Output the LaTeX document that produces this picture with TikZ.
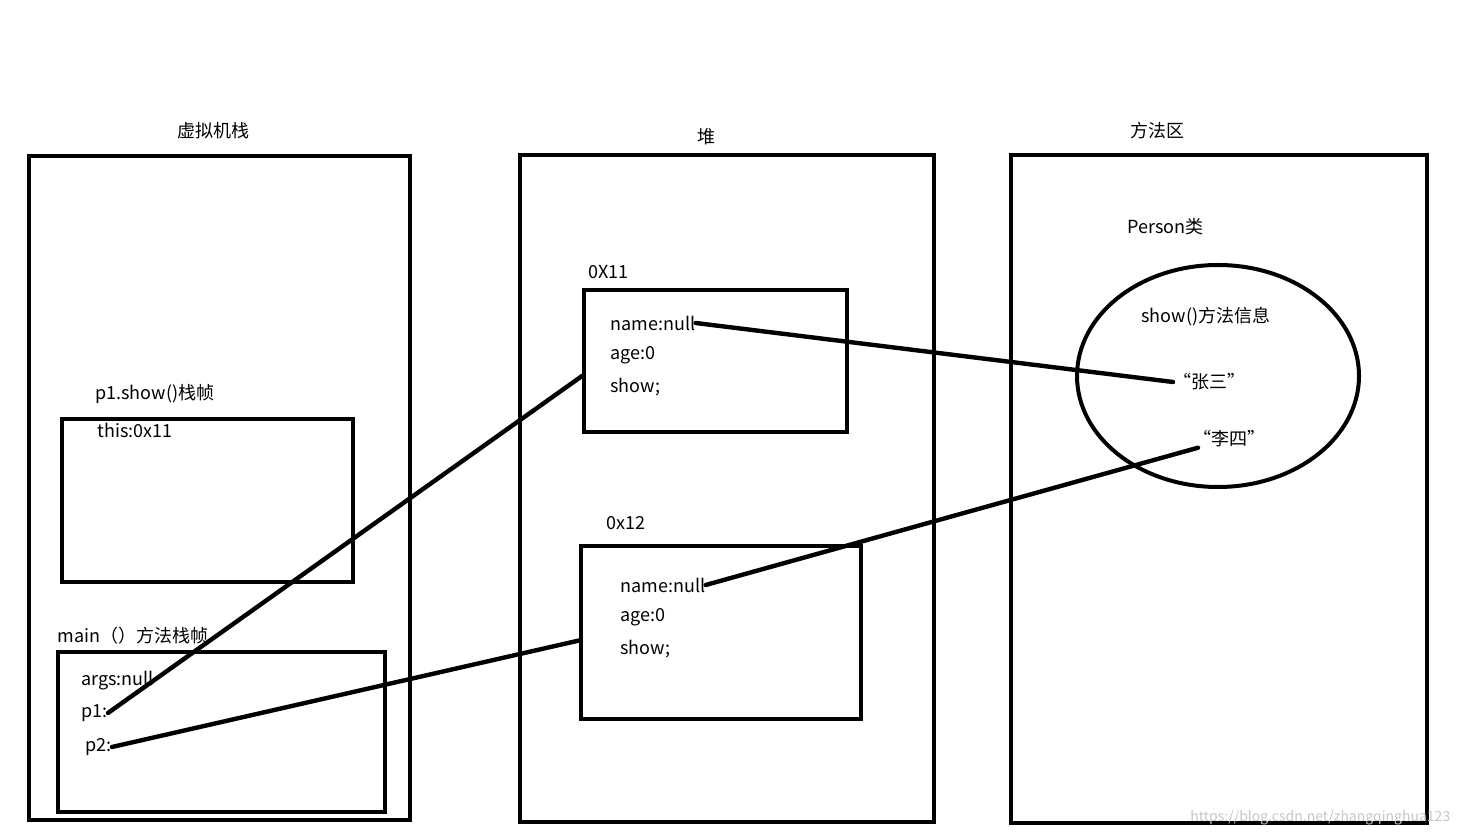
\documentclass[tikz,border=0pt]{standalone}
\usepackage{fontspec}
\setmainfont{Noto Sans CJK SC}
\usetikzlibrary{calc}
\tikzset{
  frame/.style={draw, line width=2pt, inner sep=0pt},
  link/.style={line width=2.2pt, line cap=round},
  txt/.style={anchor=west, inner sep=0pt, font=\fontsize{9}{11}\selectfont},
  ttl/.style={inner sep=0pt, font=\fontsize{9}{11}\selectfont},
}
\begin{document}
\begin{tikzpicture}[x=0.5pt, y=-0.5pt]
    \useasboundingbox (0,0) rectangle (1465,838);
    % three regions
    \node[frame, minimum width=190.5pt, minimum height=332pt] (stack) at (219.5,488) {};
    \node[frame, minimum width=207pt, minimum height=333.5pt] (heap) at (727,488.5) {};
    \node[frame, minimum width=208pt, minimum height=334pt] (method) at (1219,489) {};
    \node[ttl] (stacktitle) at (213,131) {虚拟机栈};
    \node[ttl] (heaptitle) at (706,137) {堆};
    \node[ttl] (methodtitle) at (1157,131) {方法区};
    % stack frames
    \node[txt] (showlbl) at (95,394) {p1.show()栈帧};
    \node[frame, minimum width=145.5pt, minimum height=81.5pt] (showframe) at (207.5,500.5) {};
    \node[txt] (this) at (97,430) {this:0x11};
    \node[txt] (mainlbl) at (57,636) {main（）方法栈帧};
    \node[frame, minimum width=163.5pt, minimum height=80pt] (mainframe) at (221.5,732) {};
    \node[txt] (args) at (81,681) {args:null};
    \node[txt] (p1) at (81,713) {p1:};
    \node[txt] (p2) at (85,747) {p2:};
    % heap objects
    \node[txt] (addrA) at (588,272) {0X11};
    \node[frame, minimum width=131.5pt, minimum height=71pt] (objA) at (715.5,361) {};
    \node[txt] (nameA) at (610,323) {name:null};
    \node[txt] (ageA) at (610,355) {age:0};
    \node[txt] (showA) at (610,387) {show;};
    \node[txt] (addrB) at (606,523) {0x12};
    \node[frame, minimum width=140pt, minimum height=86.5pt] (objB) at (721,632.5) {};
    \node[txt] (nameB) at (620,585) {name:null};
    \node[txt] (ageB) at (620,617) {age:0};
    \node[txt] (showB) at (620,649) {show;};
    % method area
    \node[txt] (person) at (1127,227) {Person类};
    \draw[line width=2pt] (1218,376) ellipse [x radius=141, y radius=111];
    \node[txt] (info) at (1141,317) {show()方法信息};
    \node[txt] (zhang) at (1173,382) {“张三”};
    \node[txt] (li) at (1193,439) {“李四”};
    % references
    \draw[link] (p1.east) -- ($(objA.west)+(0,15)$);
    \draw[link] (p2.east) -- ($(objB.west)+(0,8)$);
    \draw[link] (nameA.east) -- (zhang.west);
    \draw[link] (nameB.east) -- ($(li.south west)+(5,0)$);
    \node[txt, text=gray!45, font=\fontsize{7}{8}\selectfont] (mark) at (1190,818) {https://blog.csdn.net/zhangqinghua123};
\end{tikzpicture}
\end{document}
